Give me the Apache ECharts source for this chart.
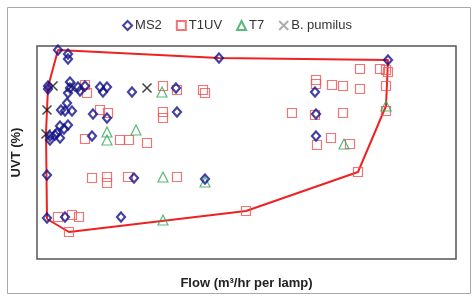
<!DOCTYPE html>
<html>
<head>
<meta charset="utf-8">
<script src="https://cdn.jsdelivr.net/npm/echarts@6/dist/echarts.min.js"></script>
<style>
html,body{margin:0;padding:0;background:#fff;}
#c{width:474px;height:297px;}
</style>
</head>
<body>
<div id="c"></div>
<script>
// Values in arbitrary chart units (flow, UVT); axes carry no tick labels.
var seriesNames = ['MS2', 'T1UV', 'T7', 'B. pumilus'];

var ms2 = [
  [21,209],[31,205],[31,200],[11,173],[11,170],[33,177],[33,171],[31,166],[41,172],[43,168],
  [48,173],[63,172],[70,172],[66,167],[95,167],[139,171],[24,149],[30,156],[28,148],[35,148],
  [56,145],[70,141],[140,147],[23,133],[31,134],[27,130],[13,119],[18,124],[23,121],[13,123],
  [20,126],[55,123],[10,84],[97,81],[10,41],[28,42],[84,42],[168,80],[182,201],[351,199],
  [278,167],[279,145],[279,123]
];

var t1uv = [
  [48,174],[50,166],[126,173],[140,169],[166,169],[168,166],[63,149],[71,146],[126,147],[126,141],
  [48,120],[83,119],[92,119],[110,116],[55,81],[70,82],[70,76],[91,82],[140,82],[21,42],
  [35,44],[42,42],[32,27],[209,48],[321,87],[323,190],[343,190],[349,189],[351,187],[279,179],
  [279,175],[295,174],[306,173],[323,170],[349,173],[255,146],[278,144],[306,146],[349,148],[294,121],
  [280,114],[313,115]
];

var t7 = [
  [125,167],[70,127],[70,119],[99,129],[126,82],[168,77],[126,39],[349,153],[307,115]
];

var bPumilus = [
  [16,173],[34,172],[110,171],[10,149],[9,125]
];

var hull = [
  [10,40],[9,126],[11,172],[21,209],[182,201],[351,199],[349,153],[321,87],[209,48],[32,27],[10,40]
];

var xTitle = 'Flow (m³/hr per lamp)';
var yTitle = 'UVT (%)';

var chart = echarts.init(document.getElementById('c'), null, {renderer: 'canvas'});
var font = 'Arial, "Liberation Sans", sans-serif';
chart.setOption({
  animation: false,
  backgroundColor: '#fff',
  graphic: [{
    type: 'rect', left: 5, top: 5, z: -10,
    shape: {width: 463, height: 286},
    style: {fill: 'none', stroke: '#a8a8a8', lineWidth: 1}
  }],
  grid: {
    left: 37, top: 46, width: 419, height: 213,
    show: true, borderColor: '#555', borderWidth: 1.5, backgroundColor: 'transparent'
  },
  legend: {
    top: 14, left: 'center', itemGap: 14, itemWidth: 9, itemHeight: 9,
    textStyle: {fontFamily: font, fontSize: 13, color: '#333', padding: [0, 0, 0, -2]},
    data: [
      {name: 'MS2'}, {name: 'T1UV'}, {name: 'T7'},
      {name: 'B. pumilus', itemStyle: {borderColor: '#999'}}
    ]
  },
  xAxis: {
    type: 'value', min: 0, max: 419,
    name: xTitle, nameLocation: 'middle', nameGap: 18,
    nameTextStyle: {fontFamily: font, fontSize: 13, fontWeight: 'bold', color: '#222'},
    axisLine: {show: false}, axisTick: {show: false}, axisLabel: {show: false}, splitLine: {show: false}
  },
  yAxis: {
    type: 'value', min: 0, max: 213,
    name: yTitle, nameLocation: 'middle', nameGap: 14,
    nameTextStyle: {fontFamily: font, fontSize: 13, fontWeight: 'bold', color: '#222'},
    axisLine: {show: false}, axisTick: {show: false}, axisLabel: {show: false}, splitLine: {show: false}
  },
  series: [
    {
      name: 'hull', type: 'line', data: hull, showSymbol: false, symbol: 'none',
      lineStyle: {color: '#ee2222', width: 2}, z: 1, silent: true
    },
    {
      name: seriesNames[1], type: 'scatter', data: t1uv, symbol: 'rect', symbolSize: 9, z: 2,
      itemStyle: {color: 'rgba(255,255,255,0)', borderColor: '#f25050', borderWidth: 1.2}
    },
    {
      name: seriesNames[2], type: 'scatter', data: t7, symbol: 'triangle', symbolSize: 10, z: 3,
      itemStyle: {color: 'rgba(255,255,255,0)', borderColor: '#2ea85a', borderWidth: 1.2}
    },
    {
      name: seriesNames[3], type: 'scatter', data: bPumilus, symbol: 'path://M0,0L10,10M10,0L0,10', symbolSize: 9, z: 4,
      itemStyle: {color: 'rgba(255,255,255,0)', borderColor: '#111', borderWidth: 1.5}
    },
    {
      name: seriesNames[0], type: 'scatter', data: ms2, symbol: 'diamond', symbolSize: [8, 9], z: 5,
      itemStyle: {color: 'rgba(255,255,255,0)', borderColor: '#12128a', borderWidth: 2.2}
    }
  ]
});
</script>
</body>
</html>
